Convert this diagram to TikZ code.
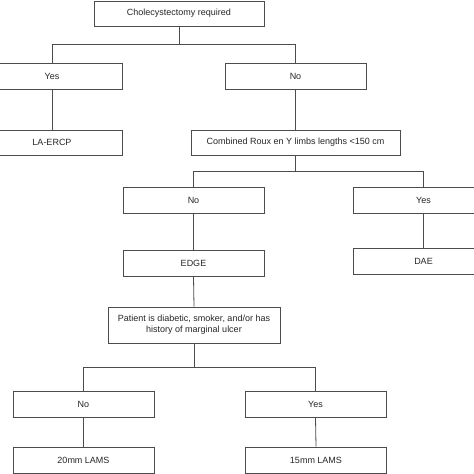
\documentclass[tikz,border=0pt]{standalone}
\usepackage{fontspec}
\setmainfont{Liberation Sans}
\begin{document}
\begin{tikzpicture}[x=1pt,y=-1pt,
  box/.style={draw=black!70, line width=0.8pt, fill=white, inner sep=0pt,
    minimum width=141pt, minimum height=26pt, align=center,
    font=\fontsize{9}{11}\selectfont, text=black!85},
  link/.style={draw=black!70, line width=0.8pt}]
\useasboundingbox (0,0) rectangle (474,474);
\clip (0,0) rectangle (474,474);
\fill[white] (0,0) rectangle (474,474);
\node[box, minimum width=170pt, minimum height=25pt] (top) at (179,13.5) {Cholecystectomy required};
\node[box] (yes1) at (52,76) {Yes};
\node[box] (no1) at (295.5,76) {No};
\node[box, minimum height=25pt] (laercp) at (52,142.5) {LA-ERCP};
\node[box, minimum width=209pt, minimum height=25pt] (comb) at (295.5,142.5) {Combined Roux en Y limbs lengths <150 cm};
\node[box] (no2) at (193.5,200) {No};
\node[box] (yes2) at (423.5,200) {Yes};
\node[box] (edge) at (193.5,263) {EDGE};
\node[box] (dae) at (423.5,261) {DAE};
\node[box, minimum width=172pt, minimum height=36pt] (pat) at (194,325) {Patient is diabetic, smoker, and/or has\\history of marginal ulcer};
\node[box] (no3) at (83.5,404) {No};
\node[box] (yes3) at (315.5,404) {Yes};
\node[box] (l20) at (83.5,460) {20mm LAMS};
\node[box] (l15) at (316,460) {15mm LAMS};
\path[link] (top.south) -- ++(0,18) coordinate (j1);
\path[link] (j1) -| (yes1.north);
\path[link] (j1) -| (no1.north);
\path[link] (yes1.south) -- (laercp.north);
\path[link] (no1.south) -- (comb.north);
\path[link] (comb.south) -- ++(0,16) coordinate (j2);
\path[link] (j2) -| (no2.north);
\path[link] (j2) -| (yes2.north);
\path[link] (no2.south) -- (edge.north);
\path[link] (yes2.south) -- (dae.north);
\path[link] (edge.south) -- (pat.north);
\path[link] (pat.south) -- ++(0,24) coordinate (j3);
\path[link] (j3) -| (no3.north);
\path[link] (j3) -| (yes3.north);
\path[link] (no3.south) -- (l20.north);
\path[link] (yes3.south) -- (l15.north);
\end{tikzpicture}
\end{document}
